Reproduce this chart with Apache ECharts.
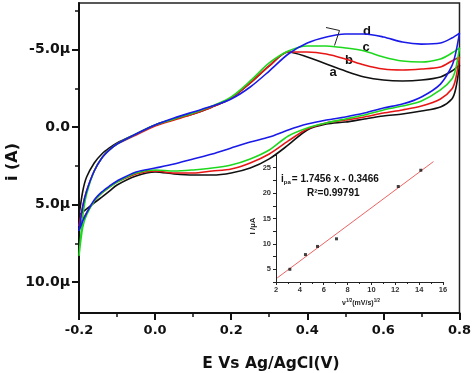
<!DOCTYPE html>
<html>
<head>
<meta charset="utf-8">
<script src="https://cdn.jsdelivr.net/npm/echarts@6/dist/echarts.min.js"></script>
<style>
html,body{margin:0;padding:0;background:#fff;}
#c{width:474px;height:373px;}
</style>
</head>
<body>
<div id="c"></div>
<script>
// Potential grid (V): forward scan and reverse scan
var E_forward = [-0.2, -0.19, -0.18, -0.16, -0.14, -0.12, -0.1, -0.05, 0, 0.05, 0.1, 0.15, 0.2, 0.25, 0.3, 0.35, 0.4, 0.45, 0.5, 0.55, 0.6, 0.65, 0.7, 0.75, 0.78, 0.8];
var E_reverse = [0.8, 0.79, 0.78, 0.75, 0.7, 0.65, 0.6, 0.55, 0.5, 0.45, 0.4, 0.35, 0.3, 0.25, 0.2, 0.15, 0.1, 0.05, 0, -0.05, -0.1, -0.12, -0.14, -0.16, -0.18, -0.19, -0.2];

// Currents (µA) — curve a (black)
var a_forward = [5.74, 4.13, 3.23, 2.32, 1.74, 1.35, 1.03, 0.45, -0.13, -0.52, -0.84, -1.29, -1.87, -2.84, -3.94, -4.84, -4.52, -4.06, -3.61, -3.23, -3.03, -2.97, -3.03, -3.23, -3.61, -4.0];
var a_reverse = [-4.0, -2.45, -1.81, -1.29, -1.03, -0.84, -0.71, -0.52, -0.32, -0.19, 0.19, 1.16, 2.06, 2.65, 2.97, 3.10, 3.10, 3.03, 2.90, 3.16, 3.74, 4.13, 4.52, 4.90, 5.29, 5.48, 5.74];
// curve b (red)
var b_forward = [6.39, 5.10, 4.13, 2.84, 2.0, 1.48, 1.10, 0.52, -0.06, -0.45, -0.84, -1.29, -1.87, -2.84, -3.94, -4.84, -4.84, -4.71, -4.39, -4.0, -3.74, -3.68, -3.74, -3.87, -4.26, -4.52];
var b_reverse = [-4.52, -3.10, -2.45, -1.81, -1.35, -1.10, -0.90, -0.65, -0.45, -0.26, 0.13, 0.90, 1.74, 2.32, 2.71, 2.84, 2.97, 2.97, 2.84, 3.03, 3.55, 3.87, 4.26, 4.77, 5.55, 5.94, 6.39];
// curve c (green)
var c_forward = [8.32, 5.74, 4.32, 2.84, 2.0, 1.48, 1.10, 0.45, -0.13, -0.52, -0.90, -1.35, -1.94, -2.97, -4.13, -4.90, -5.23, -5.23, -5.10, -4.90, -4.52, -4.26, -4.19, -4.39, -4.77, -5.10];
var c_reverse = [-5.10, -3.74, -3.10, -2.39, -1.68, -1.35, -1.10, -0.77, -0.52, -0.26, 0.06, 0.58, 1.48, 2.06, 2.45, 2.65, 2.77, 2.84, 2.77, 2.97, 3.55, 3.87, 4.26, 4.77, 5.68, 6.45, 8.32];
// curve d (blue)
var d_forward = [6.71, 5.10, 4.13, 2.84, 2.0, 1.48, 1.10, 0.45, -0.13, -0.58, -0.97, -1.35, -1.81, -2.58, -3.61, -4.71, -5.42, -5.81, -6.0, -6.0, -5.81, -5.48, -5.35, -5.42, -5.74, -6.06];
var d_reverse = [-6.06, -4.77, -3.94, -2.77, -1.94, -1.48, -1.23, -0.90, -0.65, -0.45, -0.19, 0.19, 0.65, 0.97, 1.35, 1.74, 2.06, 2.39, 2.65, 2.90, 3.48, 3.81, 4.19, 4.71, 5.55, 6.06, 6.71];

var curveNames = ['a', 'b', 'c', 'd'];
var curveColors = ['#111111', '#e81515', '#1ed81e', '#1a1ae8'];

// Main axis ticks
var yMajorTicks = [-5, 0, 5, 10];
var yMinorTicks = [-7.5, -2.5, 2.5, 7.5];

// Inset: peak current vs square root of scan rate
var sqrtScanRate = [3.16, 4.47, 5.48, 7.07, 12.25, 14.14];
var peakCurrent = [5.0, 7.9, 9.5, 11.0, 21.3, 24.5];
var fitX = [2.1, 15.2];
var fitY = [3.3, 26.2];

function loop(ef, fwd, er, rev) {
  var d = [];
  for (var i = 0; i < ef.length; i++) d.push([ef[i], fwd[i]]);
  for (var j = 1; j < er.length; j++) d.push([er[j], rev[j]]);
  return d;
}
var curveData = [
  loop(E_forward, a_forward, E_reverse, a_reverse),
  loop(E_forward, b_forward, E_reverse, b_reverse),
  loop(E_forward, c_forward, E_reverse, c_reverse),
  loop(E_forward, d_forward, E_reverse, d_reverse)
];

var chart = echarts.init(document.getElementById('c'), null, {renderer: 'canvas'});
var boldDV = {fontFamily: 'DejaVu Sans', fontWeight: 'bold', color: '#111'};
var series = curveData.map(function (d, k) {
  return {
    type: 'line', name: curveNames[k], xAxisIndex: 0, yAxisIndex: 0,
    data: d, showSymbol: false, smooth: 0.3,
    lineStyle: {color: curveColors[k], width: 1.6}, itemStyle: {color: curveColors[k]},
    z: 2 + k
  };
});
series.push({
  type: 'line', xAxisIndex: 1, yAxisIndex: 2,
  data: fitX.map(function (x, i) { return [x, fitY[i]]; }),
  showSymbol: false, lineStyle: {color: '#ec6464', width: 1}, z: 5
});
series.push({
  type: 'scatter', xAxisIndex: 1, yAxisIndex: 2,
  data: sqrtScanRate.map(function (x, i) { return [x, peakCurrent[i]]; }),
  symbol: 'rect', symbolSize: 3, itemStyle: {color: '#111'}, z: 6
});

var option = {
  animation: false,
  backgroundColor: '#fff',
  grid: [
    {left: 79, top: 3, width: 384, height: 310, show: true, borderColor: '#222', borderWidth: 1.5, backgroundColor: 'transparent'},
    {left: 276, top: 155, width: 167, height: 127}
  ],
  xAxis: [
    {
      type: 'value', gridIndex: 0, min: -0.2, max: 0.8, interval: 0.2,
      axisLine: {onZero: false, lineStyle: {color: '#111', width: 2}},
      axisTick: {length: 7, lineStyle: {color: '#111', width: 2}},
      minorTick: {show: true, splitNumber: 2, length: 4, lineStyle: {color: '#111', width: 1.5}},
      splitLine: {show: false},
      axisLabel: Object.assign({fontSize: 13, margin: 11, formatter: function (v) { return v.toFixed(1); }}, boldDV)
    },
    {
      type: 'value', gridIndex: 1, min: 2, max: 16, interval: 2,
      axisLine: {onZero: false, lineStyle: {color: '#222', width: 1}},
      axisTick: {length: 3, lineStyle: {color: '#222', width: 1}},
      minorTick: {show: true, splitNumber: 2, length: 2, lineStyle: {color: '#222'}},
      splitLine: {show: false},
      axisLabel: {fontSize: 7.5, fontWeight: 'bold', fontFamily: 'Liberation Sans', color: '#333', margin: 4}
    }
  ],
  yAxis: [
    {
      type: 'value', gridIndex: 0, inverse: true, min: -8, max: 12, position: 'left',
      axisLine: {onZero: false, lineStyle: {color: '#111', width: 2}},
      axisTick: {length: 7, customValues: yMajorTicks, lineStyle: {color: '#111', width: 2}},
      splitLine: {show: false},
      axisLabel: Object.assign({fontSize: 14, margin: 9, customValues: yMajorTicks,
        formatter: function (v) { return v === 0 ? '0.0' : v.toFixed(1) + 'µ'; }}, boldDV)
    },
    {
      type: 'value', gridIndex: 0, inverse: true, min: -8, max: 12, position: 'left', offset: 0,
      axisLine: {show: false, onZero: false},
      axisTick: {length: 4, customValues: yMinorTicks, lineStyle: {color: '#111', width: 1.5}},
      axisLabel: {show: false}, splitLine: {show: false}
    },
    {
      type: 'value', gridIndex: 1, min: 2.5, max: 27.5, interval: 2.5,
      axisLine: {onZero: false, lineStyle: {color: '#222', width: 1}},
      axisTick: {length: 3, lineStyle: {color: '#222', width: 1}},
      splitLine: {show: false},
      axisLabel: {fontSize: 7.5, fontWeight: 'bold', fontFamily: 'Liberation Sans', color: '#333', margin: 5,
        formatter: function (v) { return (Math.abs(v % 5) < 1e-6) ? String(v) : ''; }}
    }
  ],
  series: series,
  graphic: [
    {type: 'text', x: 13, y: 162, rotation: Math.PI / 2,
      style: {text: 'i (A)', font: 'bold 16px "DejaVu Sans"', fill: '#111', textAlign: 'center', textVerticalAlign: 'middle'}},
    {type: 'text', x: 271, y: 364,
      style: {text: 'E Vs Ag/AgCl(V)', font: 'bold 15.5px "DejaVu Sans"', fill: '#111', textAlign: 'center', textVerticalAlign: 'middle'}},
    {type: 'text', x: 367, y: 31, style: {text: 'd', font: 'bold 13px "Liberation Sans"', fill: '#111', textAlign: 'center', textVerticalAlign: 'middle'}},
    {type: 'text', x: 366, y: 47, style: {text: 'c', font: 'bold 13px "Liberation Sans"', fill: '#111', textAlign: 'center', textVerticalAlign: 'middle'}},
    {type: 'text', x: 349, y: 60, style: {text: 'b', font: 'bold 13px "Liberation Sans"', fill: '#111', textAlign: 'center', textVerticalAlign: 'middle'}},
    {type: 'text', x: 333, y: 72, style: {text: 'a', font: 'bold 13px "Liberation Sans"', fill: '#111', textAlign: 'center', textVerticalAlign: 'middle'}},
    {type: 'polyline', shape: {points: [[326, 27.5], [339.5, 30.5], [334.5, 45.5]]}, style: {stroke: '#222', lineWidth: 1, fill: null}, z: 10},
    {type: 'text', x: 281, y: 179,
      style: {text: '{m|i}{s|pa}{m|= 1.7456 x - 0.3466}', textVerticalAlign: 'middle',
        rich: {m: {font: 'bold 10px "Liberation Sans"', fill: '#111'}, s: {font: 'bold 6px "Liberation Sans"', fill: '#111', padding: [6, 1, 0, 0]}}}},
    {type: 'text', x: 307, y: 193,
      style: {text: 'R²=0.99791', font: 'bold 10px "Liberation Sans"', fill: '#111', textVerticalAlign: 'middle'}},
    {type: 'text', x: 253, y: 226, rotation: Math.PI / 2,
      style: {text: 'I /µA', font: 'bold 8px "Liberation Sans"', fill: '#222', textAlign: 'center', textVerticalAlign: 'middle'}},
    {type: 'text', x: 361, y: 303,
      style: {text: '{m|ν}{s|1/2}{m|(mV/s)}{s|1/2}', textAlign: 'center', textVerticalAlign: 'middle',
        rich: {m: {font: 'bold 7px "Liberation Sans"', fill: '#222'}, s: {font: 'bold 4.5px "Liberation Sans"', fill: '#222', padding: [0, 0, 4, 0]}}}}
  ]
};
chart.setOption(option);
</script>
</body>
</html>
